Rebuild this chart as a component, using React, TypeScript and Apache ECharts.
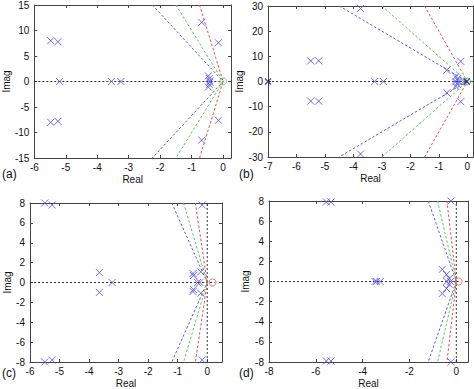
import React, { useEffect, useRef } from 'react';
import * as echarts from 'echarts';

// ---------- data ----------
// Panel (a)
const polesA: number[][] = [
  [-5.48, 8.0], [-5.25, 7.8], [-5.48, -8.0], [-5.25, -7.8],
  [-5.2, 0], [-3.55, 0], [-3.25, 0],
  [-0.68, 11.6], [-0.68, -11.5],
  [-0.15, 7.6], [-0.15, -7.6],
  [-0.47, 1.1], [-0.44, 0.6], [-0.42, 0.15], [-0.47, -1.1], [-0.44, -0.6], [-0.42, -0.15],
];
const zerosA: number[][] = [[0, 0]];
const axisLineA: number[][] = [[-6, 0], [0, 0]];
const blueA: number[][] = [[-2.25, 15], [0, 0], [-2.25, -15]];
const greenA: number[][] = [[-1.5, 15], [0, 0], [-1.5, -15]];
const redA: number[][] = [[-0.75, 15], [0, 0], [-0.75, -15]];

// Panel (b)
const polesB: number[][] = [
  [-5.5, 8.2], [-5.22, 8.2], [-5.5, -7.8], [-5.22, -7.8],
  [-3.75, 29], [-3.75, -28.8],
  [-3.25, 0], [-2.95, 0],
  [-0.72, 4.5], [-0.72, -4.5],
  [-0.23, 8], [-0.23, -8],
  [-0.4, 2], [-0.35, 1], [-0.4, 0], [-0.35, -1], [-0.4, -2], [-0.3, 0], [-0.12, 0],
];
const darkPolesB: number[][] = [[-7, 0], [-0.02, 0]];
const zerosB: number[][] = [[0, 0]];
const axisLineB: number[][] = [[-7, 0], [0, 0]];
const blueB: number[][] = [[-4.5, 30], [0, 0], [-4.5, -30]];
const greenB: number[][] = [[-3, 30], [0, 0], [-3, -30]];
const redB: number[][] = [[-1.5, 30], [0, 0], [-1.5, -30]];

// Panel (c)
const polesC: number[][] = [
  [-5.5, 8], [-5.25, 7.8], [-5.5, -8], [-5.25, -7.8],
  [-3.65, 1.0], [-3.65, -1.0], [-3.22, 0],
  [-0.48, 0.9], [-0.47, 0.7], [-0.48, -0.9], [-0.47, -0.7],
  [-0.22, 1.07], [-0.22, -1.07],
  [-0.33, 0], [-0.25, 0],
  [-0.17, 7.8], [-0.17, -7.8],
];
const zerosC: number[][] = [[0.18, 0]];
const axisLineC: number[][] = [[-6, 0], [0.25, 0]];
const vLineC: number[][] = [[0, -8], [0, 8]];
const blueC: number[][] = [[-1.2, 8], [0, 0], [-1.2, -8]];
const greenC: number[][] = [[-0.8, 8], [0, 0], [-0.8, -8]];
const redC: number[][] = [[-0.4, 8], [0, 0], [-0.4, -8]];

// Panel (d)
const polesD: number[][] = [
  [-5.55, 7.9], [-5.35, 7.9], [-5.55, -7.9], [-5.35, -7.9],
  [-3.47, 0], [-3.4, 0], [-3.25, 0],
  [-0.6, 1.2], [-0.6, -1.2],
  [-0.42, 0.7], [-0.42, -0.7],
  [-0.3, 0.3], [-0.3, -0.3],
  [-0.4, 0], [-0.25, 0],
  [-0.23, 8], [-0.23, -8],
];
const zerosD: number[][] = [[0.1, 0]];
const axisLineD: number[][] = [[-8, 0], [0.1, 0]];
const vLineD: number[][] = [[0, -8], [0, 8]];
const blueD: number[][] = [[-1.2, 8], [0, 0], [-1.2, -8]];
const greenD: number[][] = [[-0.8, 8], [0, 0], [-0.8, -8]];
const redD: number[][] = [[-0.4, 8], [0, 0], [-0.4, -8]];

const panelLabels = ['(a)', '(b)', '(c)', '(d)'];
const xName = 'Real';
const yName = 'Imag';

// ---------- styling ----------
const FONT = '"Liberation Sans", Arial, sans-serif';
const BLUE = '#4a4ae6';
const LINEBLUE = '#5a5ae0';
const DARKBLUE = '#1a1a80';
const GREEN = '#4ccf4c';
const RED = '#e05050';
const BLACK = '#333';
const CROSS = 'path://M0,0L10,10M10,0L0,10';

type Panel = {
  rect: { left: number; top: number; width: number; height: number };
  x: { min: number; max: number; interval: number };
  y: { min: number; max: number; interval: number };
  yGap: number;
  poles: number[][];
  darkPoles?: number[][];
  zeros: number[][];
  zeroColor: string;
  hLine: number[][];
  vLine?: number[][];
  blue: number[][];
  green: number[][];
  red: number[][];
  label: { x: number; y: number };
};

const panels: Panel[] = [
  {
    rect: { left: 30, top: 5, width: 201, height: 153 },
    x: { min: -6, max: 0.25, interval: 1 },
    y: { min: -15, max: 15, interval: 5 },
    yGap: 17,
    poles: polesA, zeros: zerosA, zeroColor: GREEN,
    hLine: axisLineA, blue: blueA, green: greenA, red: redA,
    label: { x: 2, y: 175 },
  },
  {
    rect: { left: 268, top: 6, width: 205, height: 151 },
    x: { min: -7, max: 0.2, interval: 1 },
    y: { min: -30, max: 30, interval: 10 },
    yGap: 17,
    poles: polesB, darkPoles: darkPolesB, zeros: zerosB, zeroColor: GREEN,
    hLine: axisLineB, blue: blueB, green: greenB, red: redB,
    label: { x: 239, y: 175 },
  },
  {
    rect: { left: 30, top: 203, width: 192, height: 161 },
    x: { min: -6, max: 0.5, interval: 1 },
    y: { min: -8, max: 8, interval: 2 },
    yGap: 17,
    poles: polesC, zeros: zerosC, zeroColor: RED,
    hLine: axisLineC, vLine: vLineC, blue: blueC, green: greenC, red: redC,
    label: { x: 2, y: 374 },
  },
  {
    rect: { left: 269, top: 201, width: 199, height: 162 },
    x: { min: -8, max: 0.5, interval: 2 },
    y: { min: -8, max: 8, interval: 2 },
    yGap: 19,
    poles: polesD, zeros: zerosD, zeroColor: RED,
    hLine: axisLineD, vLine: vLineD, blue: blueD, green: greenD, red: redD,
    label: { x: 239, y: 374 },
  },
];

function buildOption() {
  const grid: any[] = [];
  const xAxis: any[] = [];
  const yAxis: any[] = [];
  const series: any[] = [];
  const graphic: any[] = [];

  const axisLine = { show: true, onZero: false, lineStyle: { color: '#444', width: 1 } };
  const axisTick = { show: true, inside: true, length: 3, lineStyle: { color: '#444' } };
  const labelStyle = { color: '#111', fontSize: 10, fontFamily: FONT };

  panels.forEach((p, i) => {
    grid.push({ ...p.rect, containLabel: false, show: true, backgroundColor: '#fff', borderWidth: 0 });
    xAxis.push({
      type: 'value', gridIndex: i, position: 'bottom', ...p.x,
      axisLine, axisTick, splitLine: { show: false },
      axisLabel: { ...labelStyle, margin: 4, showMaxLabel: false },
      name: xName, nameLocation: 'middle', nameGap: 16,
      nameTextStyle: { color: '#111', fontSize: 10, fontFamily: FONT },
    });
    xAxis.push({
      type: 'value', gridIndex: i, position: 'top', ...p.x,
      axisLine, axisTick, splitLine: { show: false }, axisLabel: { show: false },
    });
    yAxis.push({
      type: 'value', gridIndex: i, position: 'left', ...p.y,
      axisLine, axisTick, splitLine: { show: false },
      axisLabel: { ...labelStyle, margin: 5 },
      name: yName, nameLocation: 'middle', nameGap: p.yGap,
      nameTextStyle: { color: '#111', fontSize: 10, fontFamily: FONT },
    });
    yAxis.push({
      type: 'value', gridIndex: i, position: 'right', ...p.y,
      axisLine, axisTick, splitLine: { show: false }, axisLabel: { show: false },
    });

    const xi = 2 * i;
    const yi = 2 * i;
    const line = (data: number[][], color: string, dash: number[]) => ({
      type: 'line', xAxisIndex: xi, yAxisIndex: yi, data,
      symbol: 'none', silent: true,
      lineStyle: { color, width: 1, type: dash },
      z: 2,
    });
    series.push(line(p.hLine, BLACK, [2, 2]));
    if (p.vLine) series.push(line(p.vLine, BLACK, [2, 2]));
    series.push(line(p.blue, LINEBLUE, [2.5, 2]));
    series.push(line(p.green, GREEN, [2.5, 2]));
    series.push(line(p.red, RED, [2.5, 2]));

    series.push({
      type: 'scatter', xAxisIndex: xi, yAxisIndex: yi, data: p.poles,
      symbol: CROSS, symbolSize: 7,
      itemStyle: { color: 'none', borderColor: BLUE, borderWidth: 1 },
      z: 4,
    });
    if (p.darkPoles) {
      series.push({
        type: 'scatter', xAxisIndex: xi, yAxisIndex: yi, data: p.darkPoles,
        symbol: CROSS, symbolSize: 6,
        itemStyle: { color: 'none', borderColor: DARKBLUE, borderWidth: 1.3 },
        z: 5,
      });
    }
    series.push({
      type: 'scatter', xAxisIndex: xi, yAxisIndex: yi, data: p.zeros,
      symbol: 'circle', symbolSize: 7,
      itemStyle: { color: 'none', borderColor: p.zeroColor, borderWidth: 1 },
      z: 4,
    });

    graphic.push({
      type: 'text', left: p.label.x, top: p.label.y - 7,
      style: { text: panelLabels[i], fill: '#111', fontSize: 12, fontFamily: FONT },
    });
  });

  return {
    animation: false,
    backgroundColor: '#fff',
    grid, xAxis, yAxis, series, graphic,
  };
}

export default function App() {
  const ref = useRef<HTMLDivElement>(null);
  useEffect(() => {
    if (!ref.current) return;
    const chart = echarts.init(ref.current, undefined, { renderer: 'svg' });
    chart.setOption(buildOption() as any);
    return () => chart.dispose();
  }, []);
  return (
    <div
      ref={ref}
      style={{ position: 'absolute', left: 0, top: 0, width: 474, height: 389, background: '#fff' }}
    />
  );
}
